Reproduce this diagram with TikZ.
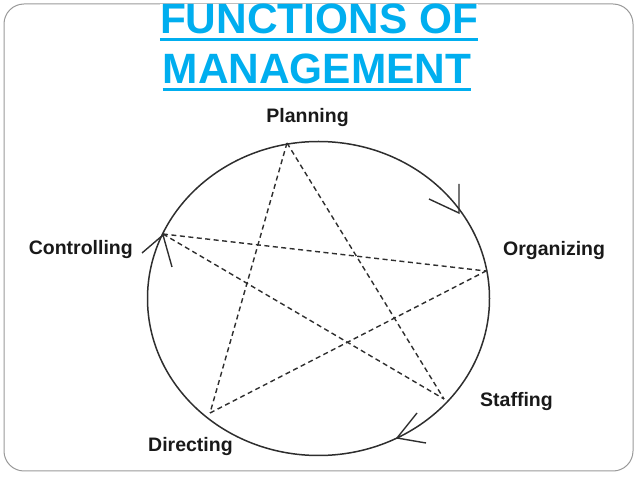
\documentclass[tikz,border=0pt]{standalone}
\usepackage{fontspec}
\setmainfont{Liberation Sans}
\definecolor{titleblue}{HTML}{00AEEF}
\definecolor{ink}{HTML}{2E2E2E}
\begin{document}
\begin{tikzpicture}[x=1pt,y=-1pt,
  lbl/.style={font=\bfseries\fontsize{19.5}{22}\selectfont, text=black!90, inner sep=0pt, anchor=base},
  starline/.style={draw=ink, line width=1.4pt, dash pattern=on 5pt off 3.5pt},
  ring/.style={draw=ink, line width=1.5pt},
  barb/.style={draw=ink, line width=1.4pt},
  ttl/.style={font=\bfseries\fontsize{42.4}{48}\selectfont, text=titleblue, inner sep=0pt, anchor=base},
  uline/.style={draw=titleblue, line width=3pt}]
\useasboundingbox (0,0) rectangle (638,478);
% slide frame
\draw[draw=black!40, line width=1pt, rounded corners=20pt] (4,4) rectangle (633,471);
% title
\node[ttl, fill=white] (t1) at (319,34) {FUNCTIONS OF};
\node[ttl] (t2) at (317,84) {MANAGEMENT};
\draw[uline] ([yshift=-6pt]t1.base west) -- ([yshift=-6pt]t1.base east);
\draw[uline] ([yshift=-6pt]t2.base west) -- ([yshift=-6pt]t2.base east);
% ring
\coordinate (ctr) at (318.5,298.5);
\draw[ring] (ctr) ellipse [x radius=171pt, y radius=157pt];
% star points
\coordinate (P) at (287,143);
\coordinate (O) at (486,271);
\coordinate (S) at (444,399);
\coordinate (D) at (210,413);
\coordinate (C) at (163,234);
\draw[starline] (P) -- (S);
\draw[starline] (P) -- (D);
\draw[starline] (C) -- (O);
\draw[starline] (C) -- (S);
\draw[starline] (D) -- (O);
% arrow heads on the ring
\coordinate (a1) at (459,213);
\coordinate (a1l) at (429,199);
\coordinate (a1r) at (459,184);
\draw[barb] (a1l) -- (a1) -- (a1r);
\coordinate (a2) at (397,438);
\coordinate (a2l) at (417,413);
\coordinate (a2r) at (426,443);
\draw[barb] (a2l) -- (a2) -- (a2r);
\coordinate (a3) at (163,235);
\coordinate (a3l) at (142,253);
\coordinate (a3r) at (172,267);
\draw[barb] (a3l) -- (a3) -- (a3r);
% labels
\node[lbl] (lp) at (307.5,123) {Planning};
\node[lbl, anchor=base west] (lo) at (503,256) {Organizing};
\node[lbl, anchor=base west] (ls) at (480,407) {Staffing};
\node[lbl, anchor=base west] (ld) at (148,452) {Directing};
\node[lbl, anchor=base east] (lc) at (133,255) {Controlling};
\end{tikzpicture}
\end{document}
